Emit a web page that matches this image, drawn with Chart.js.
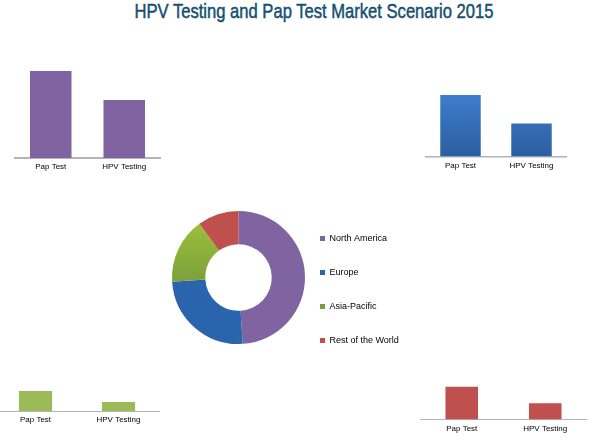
<!DOCTYPE html>
<html>
<head>
<meta charset="utf-8">
<script src="https://cdn.jsdelivr.net/npm/chart.js@4"></script>
<style>
  html, body { margin: 0; padding: 0; background: #fff; overflow: hidden; }
  body { position: relative; width: 600px; height: 440px; }
  #title {
    position: absolute; left: 14px; top: 0; width: 600px; text-align: center;
    font: 21px "Liberation Sans", sans-serif; color: #14506f;
    -webkit-text-stroke: 0.5px #14506f; line-height: 21px;
    transform: scaleX(0.79); white-space: nowrap;
  }
  .box { position: absolute; }
</style>
</head>
<body>
<div id="title">HPV Testing and Pap Test Market Scenario 2015</div>
<div class="box" style="left:14px;top:60px;width:147px;height:120px"><canvas id="northAmericaChart"></canvas></div>
<div class="box" style="left:425px;top:60px;width:142px;height:118px"><canvas id="europeChart"></canvas></div>
<div class="box" style="left:-6px;top:375px;width:166px;height:58px"><canvas id="asiaChart"></canvas></div>
<div class="box" style="left:420px;top:375px;width:167px;height:66px"><canvas id="restChart"></canvas></div>
<div class="box" style="left:160px;top:185px;width:248px;height:185px"><canvas id="regionChart"></canvas></div>

<script>
const testLabels = ["Pap Test", "HPV Testing"];
const northAmericaValues = [60, 40];
const europeValues = [65, 35];
const asiaValues = [69, 31];
const restValues = [67, 33];

const regionLabels = ["North America", "Europe", "Asia-Pacific", "Rest of the World"];
const regionValues = [49, 25, 16, 10];

const color = {
  purple: "#8064a2",
  blueTop: "#3e7dcc",
  blueBottom: "#2b5e9f",
  green: "#9bbb59",
  red: "#c0504d",
  donutBlue: "#2a64ad",
  donutGreenTop: "#9cc03c",
  donutGreenBottom: "#7a9e3c",
  axis: "#b4b4b4",
  text: "#000000"
};

/**
 * vertical gradient between two heights of the plot area
 * @param {Object} ctx scriptable context
 * @param {String} top colour at the upper height
 * @param {String} bottom colour at the lower height
 * @param {Number} from upper height, share of the plot
 * @param {Number} to lower height, share of the plot
 * @return {CanvasGradient|String} fill for the mark
 */
function plotGradient(ctx, top, bottom, from, to) {
  const area = ctx.chart.chartArea;
  if (!area) return top;
  const fill = ctx.chart.ctx.createLinearGradient(0, area.top + area.height * from, 0, area.top + area.height * to);
  fill.addColorStop(0, top);
  fill.addColorStop(1, bottom);
  return fill;
}

/**
 * draw one Pap/HPV bar chart
 * @param {String} id canvas id
 * @param {Array} values bar values
 * @param {*} fill bar colour or scriptable function
 * @param {Number} yMax top of the value axis
 * @param {Number} barPercentage bar width share
 * @param {Number} axisWidth axis line width
 * @param {Number} axisSize height kept for the category axis
 */
function drawBars(id, values, fill, yMax, barPercentage, axisWidth, axisSize) {
  new Chart(document.getElementById(id).getContext("2d"), {
    type: "bar",
    data: {
      labels: testLabels,
      datasets: [{ data: values, backgroundColor: fill, barPercentage: barPercentage, categoryPercentage: 1 }]
    },
    options: {
      responsive: true,
      maintainAspectRatio: false,
      animation: false,
      plugins: { legend: { display: false }, tooltip: { enabled: false } },
      scales: {
        y: { display: false, min: 0, max: yMax },
        x: {
          afterFit: (scale) => { scale.height = axisSize; },
          grid: { display: false, drawTicks: false },
          border: { color: color.axis, width: axisWidth },
          ticks: { color: color.text, font: { family: "Liberation Sans", size: 8 }, padding: 4, maxRotation: 0 }
        }
      }
    }
  });
}

drawBars("northAmericaChart", northAmericaValues, color.purple, 67.6, 0.565, 2, 22);
drawBars("europeChart", europeValues, (ctx) => plotGradient(ctx, color.blueTop, color.blueBottom, 0.35, 1), 102, 0.57, 1.5, 21.5);
drawBars("asiaChart", asiaValues, color.green, 124, 0.4, 1, 22);
drawBars("restChart", restValues, color.red, 91, 0.39, 1, 21.5);

new Chart(document.getElementById("regionChart").getContext("2d"), {
  type: "doughnut",
  data: {
    labels: regionLabels,
    datasets: [{
      data: regionValues,
      backgroundColor: (ctx) => {
        if (ctx.dataIndex === 2) return plotGradient(ctx, color.donutGreenTop, color.donutGreenBottom, 0.2, 0.55);
        return [color.purple, color.donutBlue, null, color.red][ctx.dataIndex];
      },
      borderWidth: 0,
      radius: 66.5,
      cutout: "50%"
    }]
  },
  options: {
    responsive: true,
    maintainAspectRatio: false,
    animation: false,
    layout: { padding: { left: 22 } },
    plugins: {
      tooltip: { enabled: false },
      legend: {
        position: "right",
        align: "end",
        labels: {
          boxWidth: 5,
          boxHeight: 5,
          padding: 25,
          color: color.text,
          font: { family: "Liberation Sans", size: 9 }
        }
      }
    }
  }
});
</script>
</body>
</html>
